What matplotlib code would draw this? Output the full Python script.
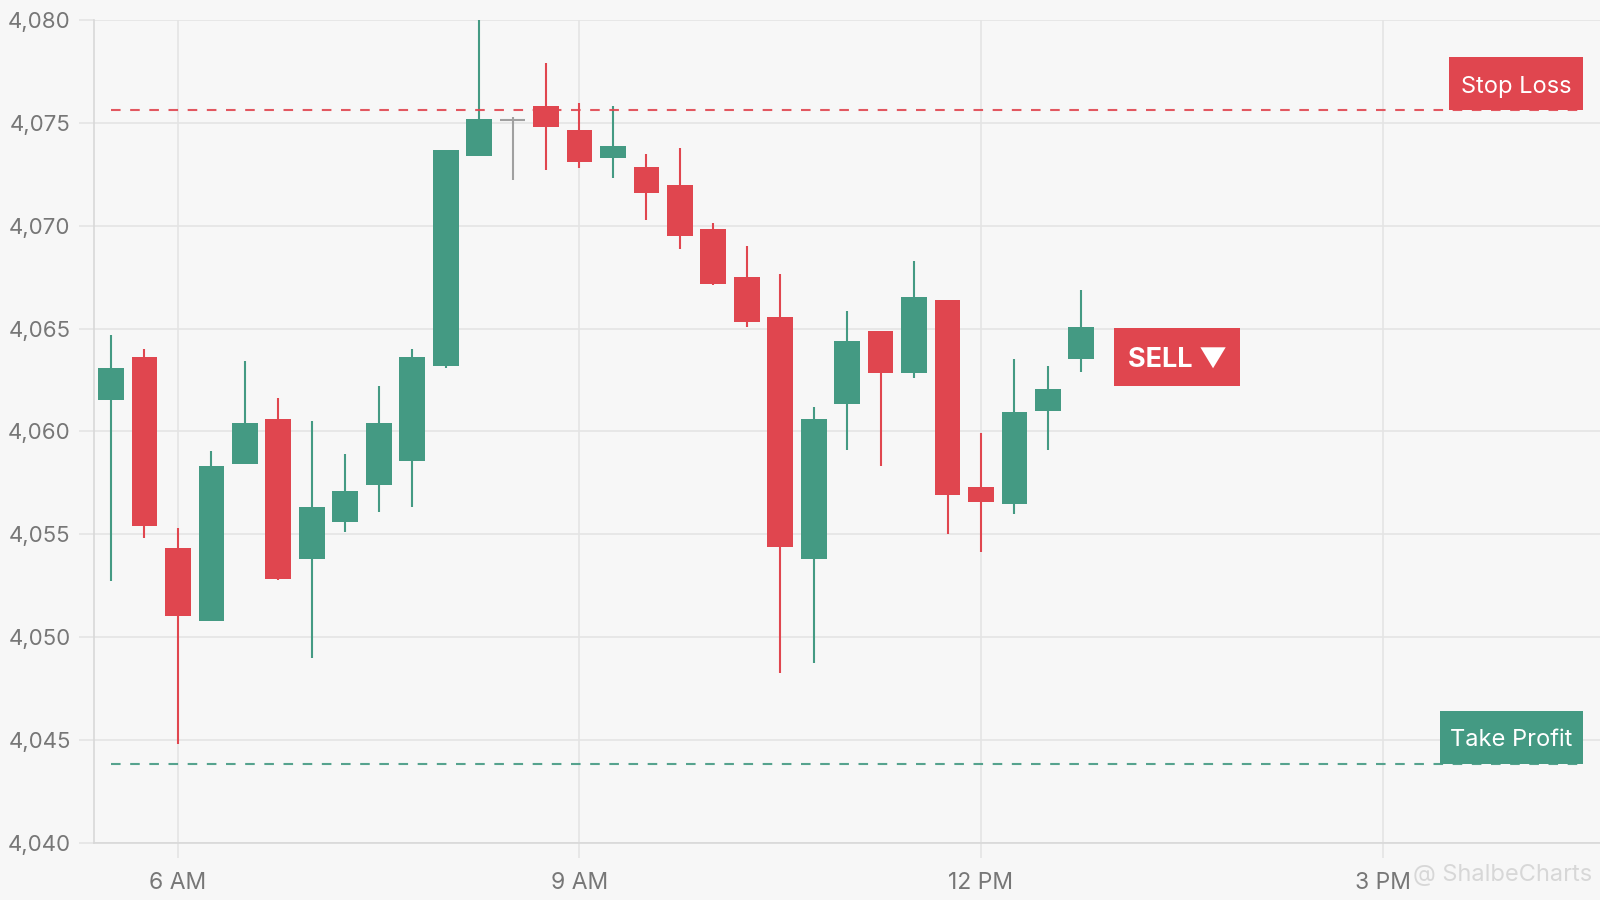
import matplotlib
matplotlib.use("Agg")
import matplotlib.pyplot as plt
import matplotlib.dates as mdates
import matplotlib.transforms as mtransforms
from matplotlib.patches import Rectangle
from matplotlib.ticker import FuncFormatter, MultipleLocator
import pandas as pd

# 15-minute candles
TIMES = ["05:30", "05:45", "06:00", "06:15", "06:30", "06:45", "07:00", "07:15",
         "07:30", "07:45", "08:00", "08:15", "08:30", "08:45", "09:00", "09:15",
         "09:30", "09:45", "10:00", "10:15", "10:30", "10:45", "11:00", "11:15",
         "11:30", "11:45", "12:00", "12:15", "12:30", "12:45"]
OPEN = [4061.5, 4063.6, 4054.35, 4050.8, 4058.4, 4060.6, 4053.8, 4055.6,
        4057.4, 4058.55, 4063.2, 4073.4, 4075.15, 4075.8, 4074.65, 4073.3,
        4072.85, 4072.0, 4069.85, 4067.5, 4065.55, 4053.8, 4061.35, 4064.9,
        4062.85, 4066.4, 4057.3, 4056.45, 4061.0, 4063.5]
HIGH = [4064.7, 4064.0, 4055.3, 4059.05, 4063.4, 4061.6, 4060.5, 4058.9,
        4062.2, 4064.0, 4073.7, 4080.0, 4075.3, 4077.9, 4075.95, 4075.8,
        4073.5, 4073.8, 4070.15, 4069.0, 4067.65, 4061.2, 4065.85, 4064.9,
        4068.3, 4066.4, 4059.9, 4063.5, 4063.2, 4066.85]
LOW = [4052.7, 4054.8, 4044.8, 4050.8, 4058.4, 4052.75, 4049.0, 4055.1,
       4056.1, 4056.3, 4063.1, 4073.4, 4072.2, 4072.7, 4072.8, 4072.3,
       4070.3, 4068.85, 4067.1, 4065.05, 4048.25, 4048.75, 4059.1, 4058.3,
       4062.6, 4055.0, 4054.15, 4056.0, 4059.1, 4062.9]
CLOSE = [4063.1, 4055.4, 4051.0, 4058.3, 4060.4, 4052.8, 4056.3, 4057.1,
         4060.4, 4063.6, 4073.7, 4075.2, 4075.15, 4074.8, 4073.1, 4073.85,
         4071.6, 4069.5, 4067.15, 4065.3, 4054.4, 4060.6, 4064.4, 4062.85,
         4066.55, 4056.9, 4056.55, 4060.95, 4062.05, 4065.05]

STOP_LOSS = 4075.6
TAKE_PROFIT = 4043.85
SIGNAL_TIME = "13:28"
SIGNAL_PRICE = 4063.6
XTICK_TIMES = ["06:00", "09:00", "12:00", "15:00"]

GREEN = "#449a83"
RED = "#e0464f"
DOJI = "#a0a0a0"
BG = "#f7f7f7"
GRID = "#e4e4e4"
TXT = "#777777"

DAY = "2024-01-02"
plt.rcParams["font.family"] = ["Inter", "DejaVu Sans"]


def tnum(s):
    return mdates.date2num(pd.Timestamp(f"{DAY} {s}"))


x = [tnum(s) for s in TIMES]
bar_w = 0.77 * 15 / 1440

W, H = 1600, 900
fig = plt.figure(figsize=(16, 9), dpi=100)
fig.patch.set_facecolor(BG)
ax = fig.add_axes([94.3 / W, 57.3 / H, 1 - 94.3 / W, 822.7 / H])
ax.set_facecolor(BG)

for xi, o, h, l, c in zip(x, OPEN, HIGH, LOW, CLOSE):
    if abs(c - o) < 1e-9:
        col = DOJI
        ax.vlines(xi, l, h, color=col, lw=1.5, zorder=2)
        ax.hlines(o, xi - bar_w / 2, xi + bar_w / 2, color=col, lw=1.5, zorder=3)
        continue
    col = GREEN if c > o else RED
    ax.vlines(xi, l, h, color=col, lw=1.5, zorder=2)
    ax.bar(xi, abs(c - o), bottom=min(o, c), width=bar_w, color=col,
           linewidth=0, zorder=3)

x0 = tnum("05:22:30")
x1 = tnum("16:37:30")
ax.set_xlim(x0, x1)
ax.set_ylim(4040, 4080)


def label_box(px, py, w, h, text, color, size, weight="normal"):
    # px, py = bottom-left corner in figure pixels; box size in pixels
    fig.add_artist(Rectangle((px / W, py / H), w / W, h / H,
                             transform=fig.transFigure, fc=color, ec="none",
                             zorder=6))
    cap = 0.727 * size / 72 * 100
    fig.text((px + w / 2) / W, (py + h / 2 - cap / 2) / H, text,
             ha="center", va="baseline", fontsize=size, color="white",
             fontweight=weight, zorder=7)


# stop loss / take profit levels
blend = mtransforms.blended_transform_factory(ax.transAxes, ax.transData)
line_start = (x[0] - x0) / (x1 - x0)
label_right = 0.9887
for lvl, col, name, bw in [(STOP_LOSS, RED, "Stop Loss", 134),
                           (TAKE_PROFIT, GREEN, "Take Profit", 143)]:
    ax.axhline(lvl, xmin=line_start, xmax=label_right, color=col, alpha=0.9,
               lw=1.5, linestyle=(0, (4.6, 4.6)), zorder=4)
    rx, ry = blend.transform((label_right, lvl))
    label_box(rx - bw, ry, bw, 53, name, col, 17)

sx, sy = ax.transData.transform((tnum(SIGNAL_TIME), SIGNAL_PRICE))
label_box(sx - 63, sy - 29, 126, 58, "SELL \u25bc", RED, 19.5, "bold")

# axes styling
ax.set_xticks([tnum(s) for s in XTICK_TIMES])


def fmt_time(v, pos):
    d = mdates.num2date(v)
    h = d.hour % 12 or 12
    return f"{h} {'AM' if d.hour < 12 else 'PM'}"


ax.xaxis.set_major_formatter(FuncFormatter(fmt_time))
ax.yaxis.set_major_locator(MultipleLocator(5))
ax.yaxis.set_major_formatter(FuncFormatter(lambda v, p: f"{v:,.0f}"))
ax.grid(True, color=GRID, lw=1.2, zorder=0)
ax.set_axisbelow(True)
ax.tick_params(axis="both", length=11, width=1.2, color=GRID,
               labelcolor=TXT, labelsize=16)
ax.tick_params(axis="y", pad=6)
ax.tick_params(axis="x", pad=10, labelsize=16.5)
for s in ["top", "right"]:
    ax.spines[s].set_visible(False)
for s in ["left", "bottom"]:
    ax.spines[s].set_color("#d8d8d8")
    ax.spines[s].set_linewidth(1.2)

# watermark
fig.text(1592 / W, 1 - 875 / H, "@ ShalbeCharts", ha="right", va="center",
         fontsize=17, color="#d4d4d4", alpha=0.9)

fig.savefig("out.png", dpi=100, facecolor=BG)
